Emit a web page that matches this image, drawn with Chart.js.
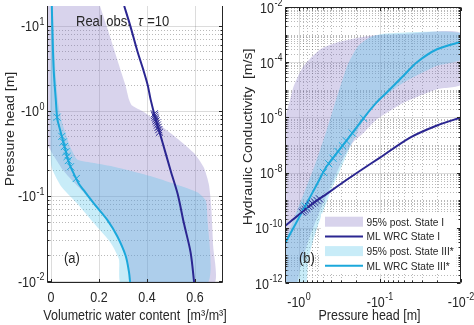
<!DOCTYPE html>
<html>
<head>
<meta charset="utf-8">
<title>Water retention and hydraulic conductivity</title>
<script src="https://cdn.jsdelivr.net/npm/chart.js@4.4.1/dist/chart.umd.min.js"></script>
<style>
  html, body { margin: 0; padding: 0; background: #ffffff; overflow: hidden; }
  #fig { position: relative; width: 474px; height: 325px; }
  #fig canvas { position: absolute; top: 0; }
  #retention { left: 0; }
  #conductivity { left: 237px; }
</style>
</head>
<body>
<div id="fig">
  <canvas id="retention" width="237" height="325"></canvas>
  <canvas id="conductivity" width="237" height="325"></canvas>
</div>
<script>
// ---------------- tick values and labels ----------------
const thetaTicks = [0, 0.2, 0.4, 0.6];
const thetaTickLabels = ['0', '0.2', '0.4', '0.6'];
const headTicksA = [10, 1, 0.1, 0.01];
const headTickLabelsA = [['-10', '1'], ['-10', '0'], ['-10', '-1'], ['-10', '-2']];
const headTicksB = [1, 0.1, 0.01];
const headTickLabelsB = [['-10', '0'], ['-10', '-1'], ['-10', '-2']];
const kTicks = [1e-2, 1e-4, 1e-6, 1e-8, 1e-10, 1e-12];
const kTickLabels = [['10', '-2'], ['10', '-4'], ['10', '-6'], ['10', '-8'], ['10', '-10'], ['10', '-12']];

// ---------------- panel (a): water content vs |pressure head| [m] ----------------
// maximum-likelihood retention curves
const mlHeadI = [17, 10, 5, 3, 2, 1.36, 0.8, 0.433, 0.196, 0.105, 0.0476, 0.0216, 0.0094];
const mlThetaI = [0.305, 0.33, 0.36, 0.385, 0.403, 0.415, 0.436, 0.464, 0.499, 0.528, 0.554, 0.582, 0.597];
const mlHeadIII = [17, 10, 5, 3, 2, 1.36, 0.8, 0.6, 0.47, 0.35, 0.28, 0.22, 0.179, 0.14, 0.115, 0.081, 0.052, 0.0336, 0.0198, 0.0127, 0.0094];
const mlThetaIII = [0.003, 0.005, 0.008, 0.011, 0.015, 0.0196, 0.026, 0.0375, 0.0475, 0.0596, 0.068, 0.081, 0.096, 0.115, 0.1375, 0.179, 0.235, 0.276, 0.311, 0.325, 0.33];

// 95% posterior envelopes: wet-side edge (top to bottom), then dry-side edge (bottom to top)
const postIHeadUpA = [17, 10, 5, 3, 2, 1.36, 1.15, 0.96, 0.8, 0.67, 0.473, 0.318, 0.214, 0.137, 0.074, 0.0256, 0.0094];
const postIThetaUpA = [0.204, 0.231, 0.265, 0.29, 0.31, 0.325, 0.338, 0.388, 0.425, 0.457, 0.526, 0.596, 0.6375, 0.658, 0.668, 0.676, 0.679];
const postIHeadLoA = [0.0094, 0.0127, 0.0198, 0.0336, 0.052, 0.081, 0.115, 0.15, 0.2, 0.3, 0.5, 17];
const postIThetaLoA = [0.333, 0.327, 0.312, 0.275, 0.232, 0.175, 0.13, 0.09, 0.05, 0.01, -0.03, -0.03];

const postIIIHeadUpA = [17, 10, 5, 3, 2, 1.36, 1.0, 0.7, 0.5, 0.35, 0.266, 0.244, 0.224, 0.179, 0.135, 0.11, 0.088, 0.062, 0.0094];
const postIIIThetaUpA = [0.008, 0.01, 0.014, 0.018, 0.023, 0.028, 0.035, 0.048, 0.065, 0.085, 0.11, 0.179, 0.249, 0.3875, 0.526, 0.61, 0.645, 0.651, 0.651];
const postIIIHeadLoA = [0.0094, 0.018, 0.028, 0.0476, 0.081, 0.132, 0.233, 17];
const postIIIThetaLoA = [0.293, 0.283, 0.249, 0.179, 0.11, 0.04, 0.0, 0.0];

// observation heads with their fitted values
const obsHeadI = [0.92, 0.88, 0.84, 0.8, 0.76, 0.72, 0.68, 0.64, 0.6, 0.56];
const obsThetaI = [0.4305, 0.4322, 0.4341, 0.436, 0.4383, 0.4408, 0.4434, 0.4462, 0.4491, 0.4523];
const obsKI = [3.7e-10, 4.1e-10, 4.6e-10, 5.1e-10, 5.9e-10, 6.6e-10, 7.6e-10, 8.5e-10, 9.8e-10, 1.12e-9];
const obsHeadIII = [0.84, 0.5, 0.43, 0.38, 0.33, 0.29, 0.26, 0.22, 0.16];
const obsThetaIII = [0.025, 0.045, 0.051, 0.0555, 0.062, 0.067, 0.072, 0.081, 0.105];
const obsKIII = [6.0e-10, 1.02e-8, 2.1e-8, 3.3e-8, 5.8e-8, 9.3e-8, 1.41e-7, 2.7e-7, 9.3e-7];

// ---------------- panel (b): hydraulic conductivity [m/s] vs |pressure head| [m] ----------------
const mlHeadKI = [1.49, 1.0, 0.672, 0.45, 0.255, 0.16, 0.1, 0.0425, 0.0198, 0.01];
const mlKI = [1.17e-10, 3.0e-10, 7.8e-10, 1.74e-9, 5.6e-9, 1.41e-8, 3.5e-8, 1.86e-7, 5.1e-7, 1.0e-6];
const mlHeadKIII = [1.49, 1.0, 0.843, 0.6, 0.455, 0.3, 0.235, 0.153, 0.11, 0.082, 0.05, 0.035, 0.0198, 0.01];
const mlKIII = [2.75e-11, 2.34e-10, 5.9e-10, 3.8e-9, 1.7e-8, 8.3e-8, 2.09e-7, 1.1e-6, 3.5e-6, 8.1e-6, 3.5e-5, 1.0e-4, 2.95e-4, 5.5e-4];

// envelopes: upper edge (left to right), then lower edge (right to left)
const postIHeadUpB = [1.49, 1.3, 1.16, 0.875, 0.545, 0.34, 0.132, 0.051, 0.01];
const postIKUpB = [9.8e-7, 4.0e-6, 1.38e-5, 7.4e-5, 2.95e-4, 5.2e-4, 9.1e-4, 1.05e-3, 1.12e-3];
const postIHeadLoB = [0.01, 0.0198, 0.051, 0.109, 0.159, 0.222, 0.287, 0.38, 0.52, 0.711, 0.945, 1.06, 1.49];
const postIKLoB = [1.58e-5, 1.05e-5, 3.4e-6, 8.5e-7, 2.75e-7, 1.12e-7, 3.2e-8, 5.0e-9, 6.3e-10, 6.3e-11, 5.0e-12, 1.0e-12, 2.4e-13];

const postIIIHeadUpB = [1.49, 1.12, 0.843, 0.634, 0.478, 0.38, 0.312, 0.249, 0.187, 0.133, 0.087, 0.01];
const postIIIKUpB = [3.1e-11, 2.75e-10, 2.24e-9, 1.95e-8, 2.24e-7, 1.95e-6, 1.23e-5, 8.5e-5, 3.8e-4, 8.1e-4, 1.10e-3, 1.12e-3];
const postIIIHeadLoB = [0.01, 0.0198, 0.051, 0.099, 0.132, 0.175, 0.232, 0.297, 0.414, 0.551, 0.666, 0.768, 0.843, 1.49];
const postIIIKLoB = [1.29e-4, 7.4e-5, 1.82e-5, 4.5e-6, 1.95e-6, 4.8e-7, 9.1e-8, 1.7e-8, 1.82e-9, 1.95e-10, 3.6e-11, 6.9e-12, 5.6e-13, 2.4e-13];

const seriesLabels = ['95% post. State I', 'ML WRC State I', '95% post. State III*', 'ML WRC State III*'];

// ---------------- look ----------------
const FONT_FAMILY = '"Liberation Sans", Arial, Helvetica, sans-serif';
const TEXT_STRETCH = 1.12;
const TICK_SIZE = 12.5, EXP_SIZE = 9, TITLE_SIZE = 12.5, LEGEND_SIZE = 10.2;
const INK = '#262626';
const COLOR_I = '#2b2691';
const COLOR_III = '#1ba8db';
const BAND_I = 'rgba(125,108,192,0.3)';
const BAND_III = 'rgba(72,192,232,0.3)';
const MAJOR_GRID = 'rgba(38,38,38,0.16)';
const MINOR_GRID = 'rgba(38,38,38,0.32)';

function pairs(xs, ys) { return xs.map((x, i) => ({ x: x, y: ys[i] })); }
function outline(ax, ay, bx, by) { return pairs(ax, ay).concat(pairs(bx, by)); }

function setFont(ctx, size, italic) { ctx.font = (italic ? 'italic ' : '') + size + 'px ' + FONT_FAMILY; }
function textWidth(ctx, s, size, italic) { setFont(ctx, size, italic); return ctx.measureText(s).width; }
function txt(ctx, s, x, y, o) {
  o = o || {};
  ctx.save();
  ctx.translate(x, y);
  ctx.scale(1, TEXT_STRETCH);
  if (o.rotate) ctx.rotate(o.rotate);
  setFont(ctx, o.size || TICK_SIZE, o.italic);
  ctx.fillStyle = o.color || INK;
  ctx.textAlign = o.align || 'left';
  ctx.textBaseline = o.baseline || 'alphabetic';
  ctx.fillText(s, 0, 0);
  ctx.restore();
}
function powerLabel(ctx, parts, x, y, align) {
  const wb = textWidth(ctx, parts[0], TICK_SIZE);
  const we = textWidth(ctx, parts[1], EXP_SIZE);
  const w = wb + we + 0.5;
  const x0 = align === 'right' ? x - w : (align === 'center' ? x - w / 2 : x);
  txt(ctx, parts[0], x0, y, { size: TICK_SIZE });
  txt(ctx, parts[1], x0 + wb + 0.5, y - 6.5, { size: EXP_SIZE });
}

function logMinors(min, max, majors) {
  const out = [];
  for (let n = Math.floor(Math.log10(min)); n <= Math.ceil(Math.log10(max)); n++) {
    for (let k = 1; k <= 9; k++) {
      const v = k * Math.pow(10, n);
      if (v < min || v > max) continue;
      if (majors.some(m => Math.abs(m - v) / m < 1e-6)) continue;
      out.push(v);
    }
  }
  return out;
}

function crisp(p) { return Math.round(p) + 0.5; }

// grid beneath the data, box / ticks / text above it
function axesFrame(spec) {
  return {
    id: 'axesFrame',
    beforeDatasetsDraw(chart) {
      const { ctx, chartArea: a } = chart;
      const sx = chart.scales.x, sy = chart.scales.y;
      ctx.save();
      ctx.beginPath();
      ctx.rect(a.left, a.top, a.right - a.left, a.bottom - a.top);
      ctx.clip();
      ctx.lineWidth = 1;
      ctx.setLineDash([1, 2]);
      ctx.strokeStyle = MINOR_GRID;
      ctx.beginPath();
      spec.xMinor.forEach(v => { const p = crisp(sx.getPixelForValue(v)); ctx.moveTo(p, a.top); ctx.lineTo(p, a.bottom); });
      spec.yMinor.forEach(v => { const p = crisp(sy.getPixelForValue(v)); ctx.moveTo(a.left, p); ctx.lineTo(a.right, p); });
      ctx.stroke();
      ctx.setLineDash([]);
      ctx.strokeStyle = MAJOR_GRID;
      ctx.beginPath();
      spec.xMajor.forEach(v => { const p = crisp(sx.getPixelForValue(v)); ctx.moveTo(p, a.top); ctx.lineTo(p, a.bottom); });
      spec.yMajor.forEach(v => { const p = crisp(sy.getPixelForValue(v)); ctx.moveTo(a.left, p); ctx.lineTo(a.right, p); });
      ctx.stroke();
      ctx.restore();
    },
    afterDatasetsDraw(chart) {
      const { ctx, chartArea: a } = chart;
      const sx = chart.scales.x, sy = chart.scales.y;
      const L = crisp(a.left), R = crisp(a.right) - 1, T = crisp(a.top), B = crisp(a.bottom) - 1;
      ctx.save();
      ctx.strokeStyle = INK;
      ctx.lineWidth = 1;
      ctx.beginPath();
      ctx.moveTo(L, spec.topEdge ? T : a.top); ctx.lineTo(L, B); ctx.lineTo(R, B); ctx.lineTo(R, spec.topEdge ? T : a.top);
      if (spec.topEdge) ctx.lineTo(L, T);
      const tick = (vals, len) => {
        vals.forEach(v => {
          const p = crisp(sx.getPixelForValue(v));
          ctx.moveTo(p, B); ctx.lineTo(p, B - len);
          if (spec.topEdge) { ctx.moveTo(p, T); ctx.lineTo(p, T + len); }
        });
      };
      const tickY = (vals, len) => {
        vals.forEach(v => {
          const p = crisp(sy.getPixelForValue(v));
          ctx.moveTo(L, p); ctx.lineTo(L + len, p);
          ctx.moveTo(R, p); ctx.lineTo(R - len, p);
        });
      };
      tick(spec.xMajor, 3.5); tick(spec.xMinorTicks, 2);
      tickY(spec.yMajor, 3.5); tickY(spec.yMinorTicks, 2);
      ctx.stroke();
      ctx.restore();
      spec.decorate(chart, ctx);
    }
  };
}

function baseOptions(x, y, padding, yWidth) {
  return {
    responsive: false, animation: false, devicePixelRatio: 1, events: [],
    layout: { padding: padding },
    plugins: { legend: { display: false }, tooltip: { enabled: false } },
    scales: {
      x: Object.assign({ bounds: 'data', grid: { display: false }, border: { display: false }, ticks: { display: false },
        afterFit(s) { s.height = 42; } }, x),
      y: Object.assign({ bounds: 'data', grid: { display: false }, border: { display: false }, ticks: { display: false },
        afterFit(s) { s.width = yWidth; } }, y)
    }
  };
}

function bandSet(label, data, color, order) {
  return { label: label, data: data, showLine: true, fill: 'shape', backgroundColor: color,
    borderWidth: 0, pointRadius: 0, pointHoverRadius: 0, tension: 0.2, order: order };
}
function curveSet(label, data, color, order) {
  return { label: label, data: data, showLine: true, fill: false, borderColor: color, borderWidth: 2,
    pointRadius: 0, pointHoverRadius: 0, tension: 0.3, order: order };
}
function markerSet(label, data, color, order) {
  return { label: label, data: data, showLine: false, pointStyle: 'crossRot', pointRadius: 5,
    pointHoverRadius: 5, pointBorderWidth: 1, borderColor: color, backgroundColor: color, order: order };
}

// ---------------- panel (a) ----------------
const headMinA = 0.00948, headMaxA = 17.0;
new Chart(document.getElementById('retention'), {
  type: 'scatter',
  data: {
    datasets: [
      bandSet(seriesLabels[0], outline(postIThetaUpA, postIHeadUpA, postIThetaLoA, postIHeadLoA), BAND_I, 6),
      bandSet(seriesLabels[2], outline(postIIIThetaUpA, postIIIHeadUpA, postIIIThetaLoA, postIIIHeadLoA), BAND_III, 5),
      curveSet(seriesLabels[1], pairs(mlThetaI, mlHeadI), COLOR_I, 4),
      curveSet(seriesLabels[3], pairs(mlThetaIII, mlHeadIII), COLOR_III, 3),
      markerSet('obs. State I', pairs(obsThetaI, obsHeadI), COLOR_I, 2),
      markerSet('obs. State III*', pairs(obsThetaIII, obsHeadIII), COLOR_III, 1)
    ]
  },
  options: baseOptions(
    { type: 'linear', min: -0.017, max: 0.717 },
    { type: 'logarithmic', min: headMinA, max: headMaxA },
    { left: 0, right: 14, top: 0, bottom: 0 }, 47),
  plugins: [axesFrame({
    topEdge: false,
    xMajor: thetaTicks, xMinor: [], xMinorTicks: [],
    yMajor: headTicksA, yMinor: logMinors(headMinA, headMaxA, headTicksA),
    yMinorTicks: logMinors(headMinA, headMaxA, headTicksA),
    decorate(chart, ctx) {
      const a = chart.chartArea, sx = chart.scales.x, sy = chart.scales.y;
      thetaTicks.forEach((v, i) => txt(ctx, thetaTickLabels[i], sx.getPixelForValue(v), 301.5, { align: 'center' }));
      headTicksA.forEach((v, i) => powerLabel(ctx, headTickLabelsA[i], a.left - 2.5, sy.getPixelForValue(v) + 5.5, 'right'));
      txt(ctx, 'Volumetric water content  [m\u00b3/m\u00b3]', (a.left + a.right) / 2, 320, { size: TITLE_SIZE, align: 'center' });
      txt(ctx, 'Pressure head [m]', 11, 129, { size: TITLE_SIZE, align: 'center', baseline: 'middle', rotate: -Math.PI / 2 });
      // annotation
      let x = 76;
      txt(ctx, 'Real obs.', x, 25.5, { size: 13 });
      x += textWidth(ctx, 'Real obs.', 13) + 7;
      txt(ctx, '\u03c4', x, 25.5, { size: 13, italic: true });
      x += textWidth(ctx, '\u03c4', 13, true) + 4.5;
      txt(ctx, '=10', x, 25.5, { size: 13 });
      txt(ctx, '(a)', 64, 262.5, { size: 13 });
    }
  })]
});

// ---------------- panel (b) ----------------
const headMinB = 0.01, headMaxB = 1.49, kMin = 1e-12, kMax = 1e-2;
new Chart(document.getElementById('conductivity'), {
  type: 'scatter',
  data: {
    datasets: [
      bandSet(seriesLabels[0], outline(postIHeadUpB, postIKUpB, postIHeadLoB, postIKLoB), BAND_I, 6),
      bandSet(seriesLabels[2], outline(postIIIHeadUpB, postIIIKUpB, postIIIHeadLoB, postIIIKLoB), BAND_III, 5),
      curveSet(seriesLabels[1], pairs(mlHeadKI, mlKI), COLOR_I, 4),
      curveSet(seriesLabels[3], pairs(mlHeadKIII, mlKIII), COLOR_III, 3),
      markerSet('obs. State I', pairs(obsHeadI, obsKI), COLOR_I, 2),
      markerSet('obs. State III*', pairs(obsHeadIII, obsKIII), COLOR_III, 1)
    ]
  },
  options: baseOptions(
    { type: 'logarithmic', reverse: true, min: headMinB, max: headMaxB },
    { type: 'logarithmic', min: kMin, max: kMax },
    { left: 0, right: 13, top: 7, bottom: 0 }, 48),
  plugins: [axesFrame({
    topEdge: true,
    xMajor: headTicksB, xMinor: logMinors(headMinB, headMaxB, headTicksB),
    xMinorTicks: logMinors(headMinB, headMaxB, headTicksB),
    yMajor: kTicks, yMinor: logMinors(kMin, kMax, kTicks),
    yMinorTicks: logMinors(kMin, kMax, kTicks),
    decorate(chart, ctx) {
      const a = chart.chartArea, sx = chart.scales.x, sy = chart.scales.y;
      headTicksB.forEach((v, i) => powerLabel(ctx, headTickLabelsB[i], sx.getPixelForValue(v), 306.5, 'center'));
      kTicks.forEach((v, i) => powerLabel(ctx, kTickLabels[i], a.left - 2.5, sy.getPixelForValue(v) + 5.5, 'right'));
      txt(ctx, 'Pressure head [m]', 132.5, 320, { size: TITLE_SIZE, align: 'center' });
      txt(ctx, 'Hydraulic Conductivity  [m/s]', 11.5, 137, { size: TITLE_SIZE, align: 'center', baseline: 'middle', rotate: -Math.PI / 2 });
      txt(ctx, '(b)', 62, 262.5, { size: 13 });

      // legend
      const ds = chart.data.datasets;
      const rows = [221.7, 236.4, 251.1, 265.8];
      const sx0 = 88, sx1 = 126, tx = 129.5;
      let maxW = 0;
      seriesLabels.forEach(l => { maxW = Math.max(maxW, textWidth(ctx, l, LEGEND_SIZE)); });
      ctx.save();
      ctx.fillStyle = '#ffffff';
      ctx.fillRect(sx0 - 4, rows[0] - 8, tx + maxW + 3 - (sx0 - 4), rows[3] - rows[0] + 16);
      seriesLabels.forEach((label, i) => {
        const isBand = i % 2 === 0;
        const d = ds.find(s => s.label === label && (s.fill === 'shape') === isBand);
        const y = rows[i];
        if (isBand) {
          ctx.fillStyle = d.backgroundColor;
          ctx.fillRect(sx0, y - 5, sx1 - sx0, 10);
        } else {
          ctx.strokeStyle = d.borderColor;
          ctx.lineWidth = 2;
          ctx.beginPath(); ctx.moveTo(sx0, y); ctx.lineTo(sx1, y); ctx.stroke();
        }
        txt(ctx, label, tx, y + 3.8, { size: LEGEND_SIZE });
      });
      ctx.restore();
    }
  })]
});
</script>
</body>
</html>
